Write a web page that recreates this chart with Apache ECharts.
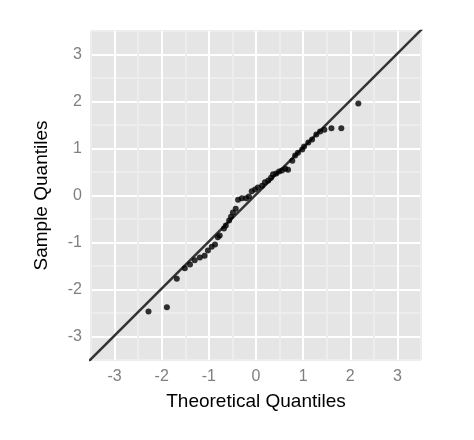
<!DOCTYPE html>
<html><head><meta charset="utf-8">
<script src="https://cdn.jsdelivr.net/npm/echarts@6/dist/echarts.min.js"></script>
<style>html,body{margin:0;background:#fff}#c{width:474px;height:440px}</style>
</head><body><div id="c"></div>
<script>
const theoretical=[-2.28,-1.89,-1.68,-1.51,-1.40,-1.30,-1.19,-1.09,-1.02,-0.94,-0.87,-0.81,-0.77,-0.68,-0.64,-0.57,-0.53,-0.49,-0.43,-0.38,-0.30,-0.21,-0.15,-0.09,-0.02,0.04,0.13,0.19,0.26,0.32,0.36,0.43,0.49,0.55,0.62,0.68,0.77,0.83,0.89,0.98,1.02,1.11,1.19,1.28,1.36,1.45,1.60,1.81,2.17];
const sample=[-2.47,-2.38,-1.77,-1.55,-1.47,-1.38,-1.32,-1.28,-1.17,-1.09,-1.04,-0.89,-0.85,-0.70,-0.64,-0.53,-0.45,-0.36,-0.28,-0.09,-0.06,-0.06,-0.02,0.09,0.13,0.17,0.21,0.28,0.32,0.38,0.45,0.47,0.51,0.53,0.57,0.55,0.74,0.85,0.91,0.98,1.04,1.13,1.19,1.30,1.36,1.40,1.43,1.43,1.96];
const refLine=[[-3.6,-3.58],[3.6,3.62]];
const axisCommon={type:'value',min:-3.5,max:3.5,interval:0.5,
 axisLine:{show:false},axisTick:{show:false},
 axisLabel:{color:'#7f7f7f',fontSize:16,fontFamily:'Liberation Sans',margin:9,
   formatter:v=>Number.isInteger(v)?String(v):''},
 splitLine:{show:true,lineStyle:{color:['#EDEDED','#FFFFFF'],width:2}},
 nameLocation:'middle',nameTextStyle:{color:'#000',fontSize:19,fontFamily:'Liberation Sans'}};
const chart=echarts.init(document.getElementById('c'));
chart.setOption({
 animation:false,
 grid:{left:91,right:53,top:31,bottom:80,show:true,backgroundColor:'#E5E5E5',borderWidth:0},
 xAxis:Object.assign({},axisCommon,{name:'Theoretical Quantiles',nameGap:32}),
 yAxis:Object.assign({},axisCommon,{name:'Sample Quantiles',nameGap:40}),
 series:[
  {type:'line',data:refLine,showSymbol:false,lineStyle:{color:'#333',width:2.5},clip:true,z:2},
  {type:'scatter',data:theoretical.map((x,i)=>[x,sample[i]]),symbolSize:6,itemStyle:{color:'#000'},z:3}
 ]
});
</script></body></html>
